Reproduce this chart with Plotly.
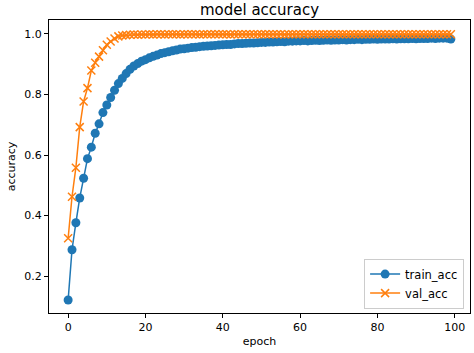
import plotly.graph_objects as go

epochs = list(range(100))

train_acc = [
    0.121, 0.287, 0.376, 0.458, 0.523, 0.588, 0.626, 0.672, 0.703, 0.740,
    0.765, 0.790, 0.814, 0.836, 0.853, 0.869, 0.883, 0.894, 0.902, 0.910,
    0.915, 0.921, 0.926, 0.930, 0.935, 0.938, 0.941, 0.944, 0.947, 0.950,
    0.951, 0.953, 0.955, 0.956, 0.958, 0.959, 0.960, 0.961, 0.962, 0.963,
    0.964, 0.965, 0.965, 0.967, 0.968, 0.968, 0.969, 0.970, 0.970, 0.971,
    0.972, 0.972, 0.973, 0.973, 0.974, 0.975, 0.974, 0.976, 0.976, 0.977,
    0.977, 0.978, 0.977, 0.978, 0.979, 0.978, 0.979, 0.980, 0.979, 0.980,
    0.980, 0.981, 0.980, 0.981, 0.981, 0.982, 0.981, 0.982, 0.982, 0.983,
    0.982, 0.983, 0.983, 0.983, 0.984, 0.983, 0.984, 0.984, 0.984, 0.985,
    0.984, 0.985, 0.985, 0.985, 0.986, 0.985, 0.986, 0.986, 0.986, 0.983,
]

val_acc = [
    0.325, 0.462, 0.558, 0.692, 0.777, 0.821, 0.879, 0.905, 0.925, 0.946,
    0.964, 0.975, 0.985, 0.992, 0.995, 0.996, 0.997, 0.998, 0.997, 0.998,
    0.998, 0.999, 0.998, 0.999, 0.999, 0.998, 0.999, 0.999, 0.999, 0.998,
    0.999, 0.999, 0.999, 0.999, 0.998, 0.999, 0.999, 0.999, 0.999, 0.999,
    0.999, 0.999, 0.998, 0.999, 0.999, 0.999, 0.999, 0.999, 0.999, 0.999,
    0.999, 0.999, 0.999, 0.999, 0.999, 0.999, 0.998, 0.999, 0.999, 0.999,
    0.999, 0.999, 0.999, 0.999, 0.999, 0.999, 0.999, 0.999, 0.999, 0.999,
    0.999, 0.999, 0.999, 0.999, 0.999, 0.999, 0.999, 0.999, 0.999, 0.999,
    0.999, 0.999, 0.999, 0.999, 0.999, 0.999, 0.999, 0.999, 0.999, 0.999,
    0.999, 0.999, 0.999, 0.999, 0.999, 0.999, 0.999, 0.999, 0.999, 0.999,
]

x_ticks = [0, 20, 40, 60, 80, 100]
y_ticks = [0.2, 0.4, 0.6, 0.8, 1.0]
y_tick_text = ["0.2", "0.4", "0.6", "0.8", "1.0"]

BLUE = "#1f77b4"
ORANGE = "#ff7f0e"
FONT = "DejaVu Sans"

fig = go.Figure()
fig.add_trace(go.Scatter(
    x=epochs, y=train_acc, name="train_acc", mode="lines+markers",
    line=dict(color=BLUE, width=1.5),
    marker=dict(symbol="circle", size=9, color=BLUE),
))
fig.add_trace(go.Scatter(
    x=epochs, y=val_acc, name="val_acc", mode="lines+markers",
    line=dict(color=ORANGE, width=1.5),
    marker=dict(symbol="x-thin", size=8, color=ORANGE,
                line=dict(width=1.5, color=ORANGE)),
))

axis_common = dict(
    showline=True, linecolor="black", linewidth=1, mirror=True,
    ticks="outside", ticklen=4, tickcolor="black", tickwidth=1,
    showgrid=False, zeroline=False,
    tickfont=dict(family=FONT, size=11, color="black"),
)

fig.update_layout(
    width=474, height=353,
    margin=dict(l=49, r=4, t=20, b=40),
    paper_bgcolor="white", plot_bgcolor="white",
    font=dict(family=FONT, color="black"),
    title=dict(text="model accuracy", x=0.5, xref="paper",
               y=1 - 10 / 353, yref="container", yanchor="middle",
               font=dict(family=FONT, size=15, color="black")),
    xaxis=dict(range=[-4.95, 103.95], tickvals=x_ticks,
               title=dict(text="epoch", standoff=4,
                          font=dict(family=FONT, size=11)),
               **axis_common),
    yaxis=dict(range=[0.078, 1.046], tickvals=y_ticks, ticktext=y_tick_text,
               title=dict(text="accuracy", standoff=6,
                          font=dict(family=FONT, size=11)),
               **axis_common),
    legend=dict(x=0.986, y=0.015, xanchor="right", yanchor="bottom",
                bgcolor="rgba(255,255,255,0.8)", bordercolor="#cccccc",
                borderwidth=1, font=dict(family=FONT, size=11.5),
                itemwidth=30, tracegroupgap=0),
    showlegend=True,
)

fig.write_html("out.html")
